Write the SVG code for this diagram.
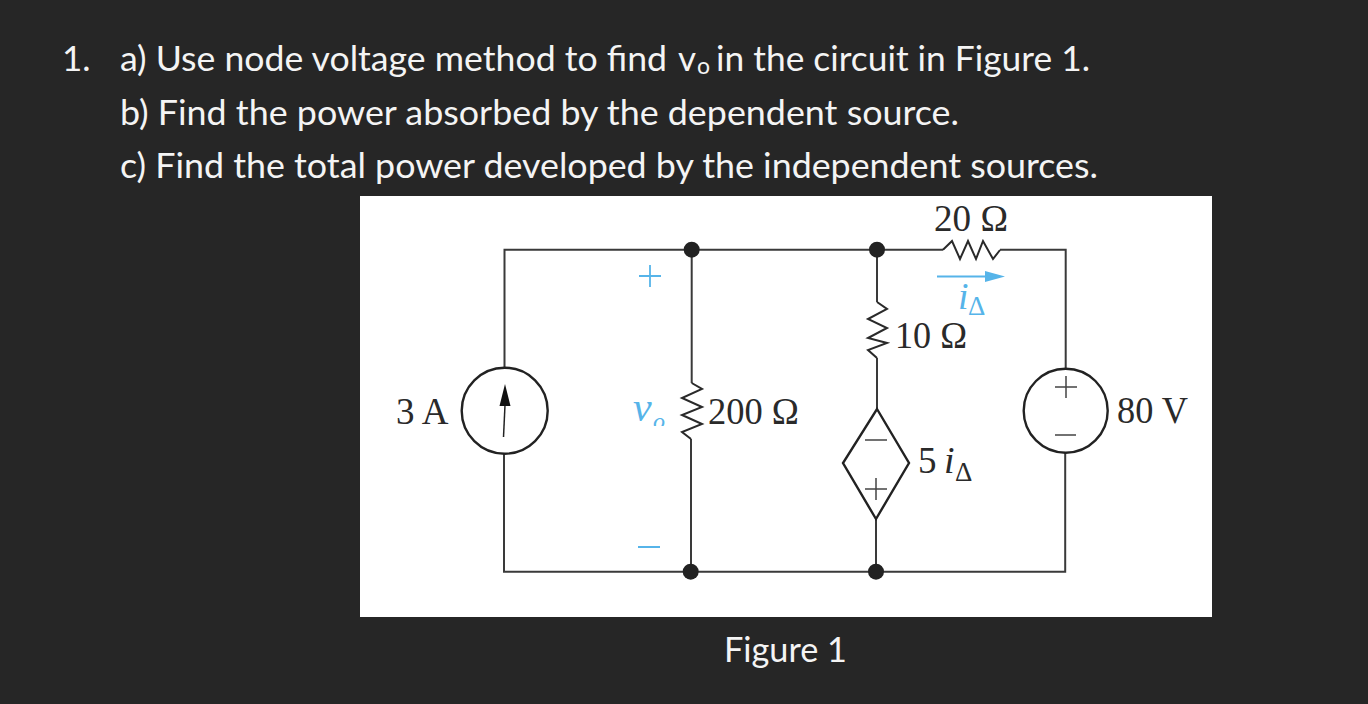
<svg xmlns="http://www.w3.org/2000/svg" width="1368" height="704" viewBox="0 0 1368 704">
<style>
.q{font-family:Lato,"Open Sans",sans-serif;font-size:35px;fill:#f4f4f4}
.w{fill:none;stroke:#3a3a3a;stroke-width:2;stroke-linejoin:miter}
.s{fill:#fff;stroke:#222;stroke-width:2.4}
.r{fill:none;stroke:#2a2a2a;stroke-width:2}
.b{stroke:#56b4e9;stroke-width:1.8;fill:none}
.k{stroke:#444;stroke-width:1.5;fill:none}
.t{font-family:"Liberation Serif",serif;font-size:37px;fill:#2a2a2a}
.i{font-family:"Liberation Serif",serif;font-style:italic;font-size:38px}
.d{font-family:"Liberation Serif",serif;font-size:27px}
.dot{fill:#222}
</style>
<defs><clipPath id="subclip"><rect x="645" y="410" width="30" height="16"/></clipPath></defs>
<rect width="1368" height="704" fill="#262626"/>
<g id="question">
<text class="q" x="62" y="71">1.</text>
<text class="q" x="120" y="71" textLength="547" lengthAdjust="spacingAndGlyphs">a) Use node voltage method to find</text>
<text class="q" x="678" y="71">v</text>
<text class="q" x="697" y="74" style="font-size:23px">o</text>
<text class="q" x="716" y="71" textLength="374" lengthAdjust="spacingAndGlyphs">in the circuit in Figure 1.</text>
<text class="q" x="120" y="125" textLength="839" lengthAdjust="spacingAndGlyphs">b) Find the power absorbed by the dependent source.</text>
<text class="q" x="120" y="178" textLength="978" lengthAdjust="spacingAndGlyphs">c) Find the total power developed by the independent sources.</text>
<text class="q" x="724" y="662" textLength="123" lengthAdjust="spacingAndGlyphs">Figure 1</text>
</g>
<rect id="panel" x="360" y="196" width="852" height="421" fill="#fff"/>
<g id="connectors">
<path class="w" d="M504.500 367.500V249.700H943"/>
<path class="w" d="M1000 249.700H1065.700V368"/>
<path class="w" d="M504 454V571.700H1065.200V453"/>
<path class="w" d="M691.700 249.700V383"/>
<path class="w" d="M691 439V571.700"/>
<path class="w" d="M877 249.700V302"/>
<path class="w" d="M877 358V409"/>
<path class="w" d="M876 519V571.700"/>
</g>
<g id="source-3a">
<circle class="s" cx="504.700" cy="410.700" r="43"/>
<path d="M503.500 437L505 405" stroke="#222" stroke-width="1.500" fill="none"/>
<path d="M505 384L499.500 406H510.500Z" fill="#111"/>
<text class="t" x="396" y="424">3 A</text>
</g>
<g id="resistor-200">
<path class="r" d="M691.700 383L702 389L682 398L702 407L682 415L702 424L682 432L691 439"/>
<text class="t" x="708" y="424" textLength="91" lengthAdjust="spacingAndGlyphs">200 Ω</text>
</g>
<g id="vo-label">
<path class="b" d="M639 276H661M650 265V287M638 547H660"/>
<text class="i" x="633" y="421" fill="#56b4e9" style="font-size:42px">v</text>
<text class="i" x="653" y="429" fill="#56b4e9" style="font-size:24px" clip-path="url(#subclip)">o</text>
</g>
<g id="resistor-10">
<path class="r" d="M877 302L887 309L868 319L887 328L868 338L887 343L868 350L877 358"/>
<text class="t" x="895" y="348" textLength="72" lengthAdjust="spacingAndGlyphs">10 Ω</text>
</g>
<g id="resistor-20">
<path class="r" d="M943 249.700L952 241L960 259L968 241L976 259L983 241L993 259L1000 250"/>
<text class="t" x="934" y="231" textLength="74" lengthAdjust="spacingAndGlyphs">20 Ω</text>
</g>
<g id="current-label">
<path d="M937 276.500H987" stroke="#56b4e9" stroke-width="2" fill="none"/>
<path d="M985 271L1005 276.500L985 282Z" fill="#56b4e9"/>
<text class="i" x="958" y="309" fill="#56b4e9">i</text>
<text class="d" x="968" y="315" fill="#56b4e9">Δ</text>
</g>
<g id="dependent-source">
<path class="s" d="M877 409L909 463L876 519L843 463Z" fill="#fff"/>
<path class="k" d="M865 440H887M865 489H887M876 478V500"/>
<text class="t" x="918" y="473">5</text>
<text class="i" x="944" y="473" fill="#2a2a2a">i</text>
<text class="d" x="955" y="481" fill="#2a2a2a">Δ</text>
</g>
<g id="source-80v">
<circle class="s" cx="1065.700" cy="410.700" r="42"/>
<path class="k" d="M1055 387H1077M1066 376V398M1055 435H1076"/>
<text class="t" x="1117" y="423" textLength="71" lengthAdjust="spacingAndGlyphs">80 V</text>
</g>
<g id="junctions">
<circle class="dot" cx="691.700" cy="249.700" r="8"/>
<circle class="dot" cx="877" cy="249.700" r="8"/>
<circle class="dot" cx="690.700" cy="571.700" r="8"/>
<circle class="dot" cx="876" cy="571.700" r="8"/>
</g>
</svg>
